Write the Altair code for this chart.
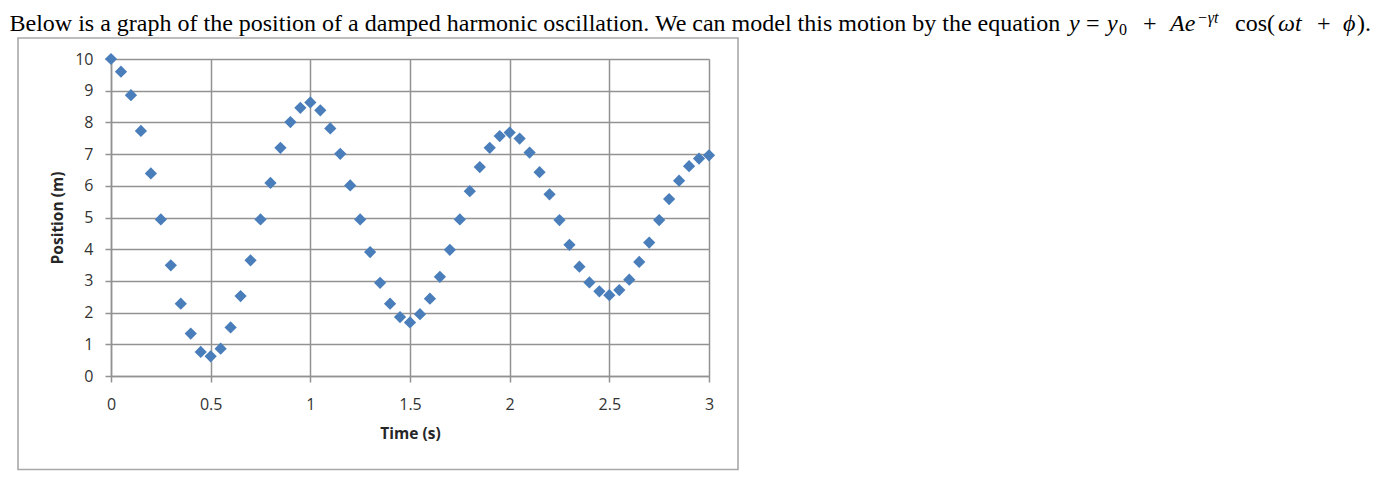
import altair as alt
import pandas as pd

# ---- data ----
time_s = [0.00, 0.05, 0.10, 0.15, 0.20, 0.25, 0.30, 0.35, 0.40, 0.45,
          0.50, 0.55, 0.60, 0.65, 0.70, 0.75, 0.80, 0.85, 0.90, 0.95,
          1.00, 1.05, 1.10, 1.15, 1.20, 1.25, 1.30, 1.35, 1.40, 1.45,
          1.50, 1.55, 1.60, 1.65, 1.70, 1.75, 1.80, 1.85, 1.90, 1.95,
          2.00, 2.05, 2.10, 2.15, 2.20, 2.25, 2.30, 2.35, 2.40, 2.45,
          2.50, 2.55, 2.60, 2.65, 2.70, 2.75, 2.80, 2.85, 2.90, 2.95,
          3.00]
position_m = [10.0, 9.6, 8.86, 7.73, 6.39, 4.94, 3.49, 2.28, 1.34, 0.76,
              0.62, 0.86, 1.53, 2.52, 3.65, 4.94, 6.09, 7.2, 8.01, 8.46,
              8.63, 8.38, 7.81, 7.01, 6.01, 4.94, 3.91, 2.94, 2.28, 1.86,
              1.69, 1.95, 2.44, 3.13, 3.98, 4.94, 5.83, 6.59, 7.2, 7.57,
              7.68, 7.49, 7.05, 6.43, 5.73, 4.92, 4.14, 3.45, 2.95, 2.67,
              2.55, 2.71, 3.04, 3.6, 4.21, 4.92, 5.58, 6.16, 6.62, 6.86,
              6.96]
x_ticks = [0, 0.5, 1, 1.5, 2, 2.5, 3]
y_ticks = [0, 1, 2, 3, 4, 5, 6, 7, 8, 9, 10]

intro_text = ("Below is a graph of the position of a damped harmonic oscillation. "
              "We can model this motion by the equation ")
# equation pieces: (text, italic, small, vertical shift)
eq_pieces = [
    ("y", True, False, 0), ("=", False, False, 0), ("y", True, False, 0),
    ("0", False, True, 4), ("+", False, False, 0), ("Ae", True, False, 0),
    ("\u2212\u03b3t", True, True, -8), ("cos(", False, False, 0),
    ("\u03c9t", True, False, 0), ("+", False, False, 0),
    ("\u03d5", True, False, 0), (").", False, False, 0),
]
eq_x = [958, 975, 996, 1008, 1032, 1059, 1086, 1124, 1167, 1206, 1232, 1246]

df = pd.DataFrame({"Time (s)": time_s, "Position (m)": position_m})
one = pd.DataFrame({"k": [0]})

GRID = "#929292"
LABEL = "#333333"
BASE_Y = -28.5

points = alt.Chart(df).mark_point(
    shape="diamond", filled=True, size=150, color="#4A7EBB", opacity=1
).encode(
    x=alt.X("Time (s):Q",
            scale=alt.Scale(domain=[0, 3], nice=False, zero=False),
            axis=alt.Axis(values=x_ticks, format="~g", grid=True,
                          gridColor=GRID, gridWidth=1.5,
                          domainColor=GRID, domainWidth=1.5,
                          tickColor=GRID, tickWidth=1.5, tickSize=6,
                          labelFont="Open Sans", labelFontSize=16,
                          labelColor=LABEL, labelPadding=14,
                          labelFlush=False, labelOverlap=False,
                          title="Time (s)", titleFont="Open Sans",
                          titleFontSize=15.5, titleFontWeight="bold",
                          titleColor="#262626", titlePadding=14)),
    y=alt.Y("Position (m):Q",
            scale=alt.Scale(domain=[0, 10], nice=False, zero=False),
            axis=alt.Axis(values=y_ticks, format="d", grid=True,
                          gridColor=GRID, gridWidth=1.5,
                          domainColor=GRID, domainWidth=1.5,
                          tickColor=GRID, tickWidth=1.5, tickSize=6,
                          labelFont="Open Sans", labelFontSize=16,
                          labelColor=LABEL, labelPadding=12,
                          labelFlush=False, labelOverlap=False,
                          title="Position (m)", titleFont="Open Sans",
                          titleFontSize=15.5, titleFontWeight="bold",
                          titleColor="#262626", titlePadding=9)),
)

frame = alt.Chart(one).mark_rect(
    fillOpacity=0, stroke="#A8A8A8", strokeWidth=1.6
).encode(x=alt.value(-93), x2=alt.value(627), y=alt.value(-21), y2=alt.value(410.5))

layers = [frame, points]

layers.append(
    alt.Chart(one).mark_text(
        text=intro_text, align="left", baseline="alphabetic",
        font="Liberation Serif", fontSize=24, color="black"
    ).encode(x=alt.value(-101.5), y=alt.value(BASE_Y))
)

for (txt, italic, small, dy), xpos in zip(eq_pieces, eq_x):
    layers.append(
        alt.Chart(one).mark_text(
            text=txt, align="left", baseline="alphabetic",
            font="Liberation Serif", fontSize=16 if small else 24,
            fontStyle="italic" if italic else "normal", color="black"
        ).encode(x=alt.value(xpos), y=alt.value(BASE_Y + dy))
    )

chart = alt.layer(*layers).properties(
    width=598, height=317,
    autosize=alt.AutoSizeParams(type="none"),
    padding={"left": 103, "top": 51, "right": 680, "bottom": 95},
).configure_view(strokeWidth=0).configure(background="white")

chart.save("out.html", embed_options={"renderer": "svg", "actions": False})
